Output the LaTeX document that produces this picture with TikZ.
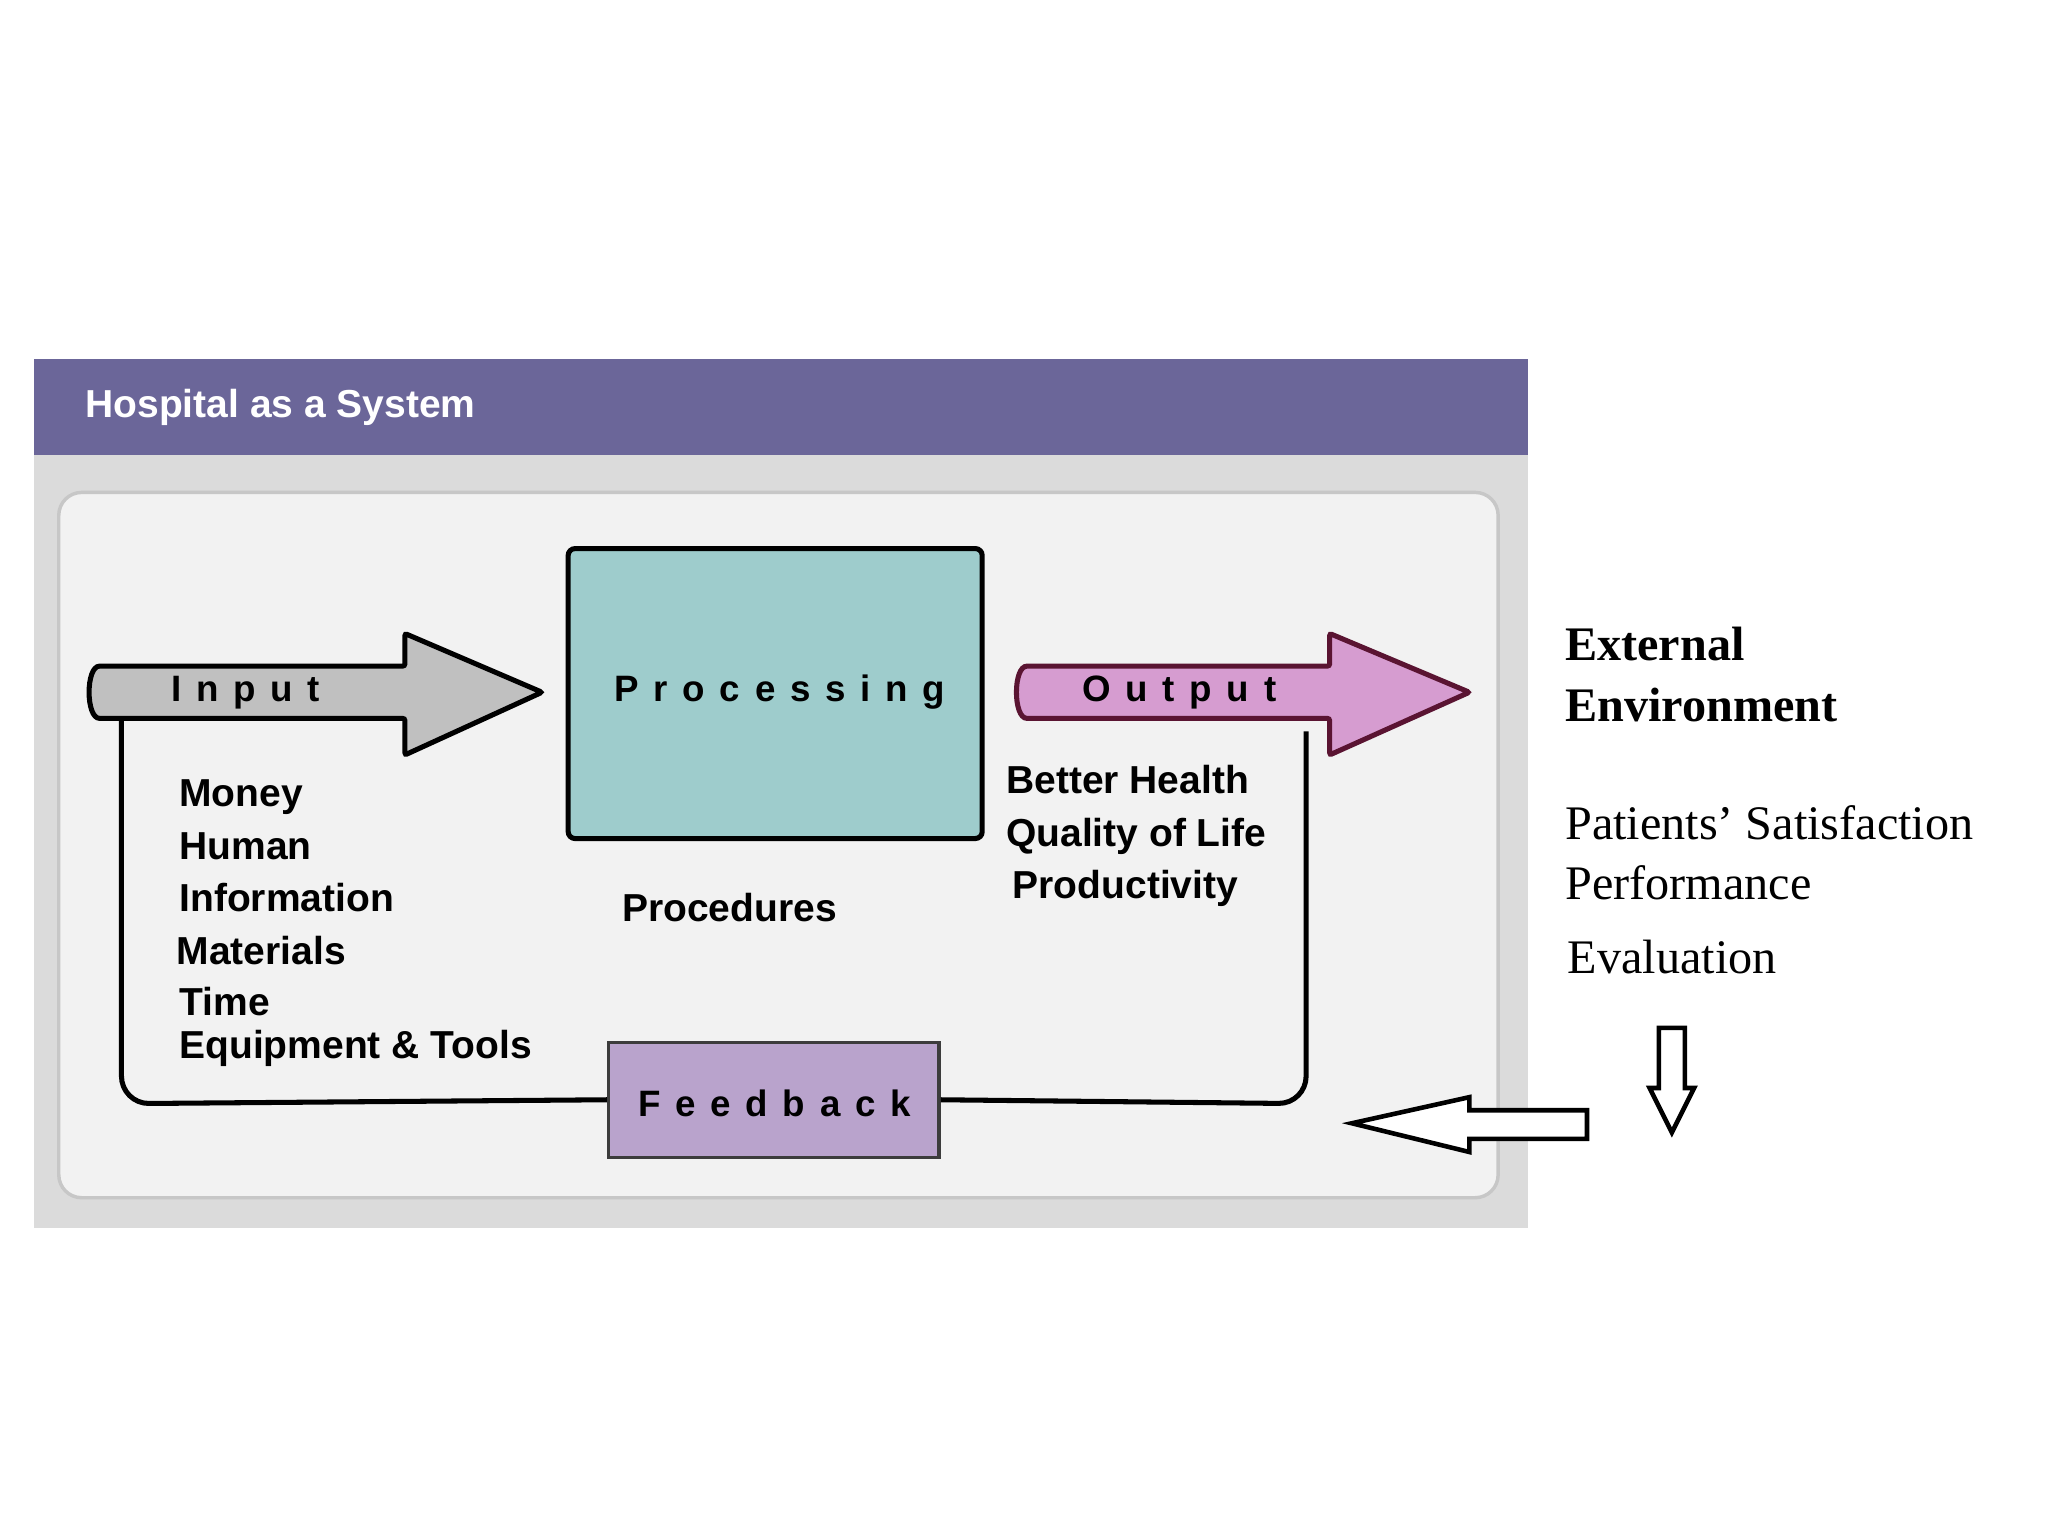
\documentclass[tikz,border=0pt]{standalone}
\usepackage{fontspec}
\setmainfont{Liberation Serif}
\newfontfamily\sansb[LetterSpace=0]{Liberation Sans}
\newfontfamily\spaced[LetterSpace=40]{Liberation Sans}
\begin{document}
\begin{tikzpicture}[x=0.02cm,y=-0.02cm,
  lst/.style={font=\sansb\fontsize{17}{20}\selectfont\bfseries,anchor=west,inner sep=0},
  lbl/.style={font=\spaced\fontsize{16}{19}\selectfont\bfseries,inner sep=0},
  ser/.style={font=\fontsize{21}{24}\selectfont,anchor=west,inner sep=0},
  loop/.style={line width=2.2pt,rounded corners=12pt}]
\useasboundingbox (0,0) rectangle (1568,1176);
\fill[white] (0,0) rectangle (1568,1176);
% panel
\fill[black!14] (26,275) rectangle (1170,940);
\fill[fill={rgb,255:red,107;green,102;blue,153}] (26,275) rectangle (1170,348);
\node[font=\sansb\fontsize{17}{20}\selectfont\bfseries,text=white,anchor=west,inner sep=0] (title) at (65,312) {Hospital as a System};
\draw[black!22,line width=1.5pt,fill=black!5,rounded corners=10pt] (45,377) rectangle (1147,917);
% feedback loop
\coordinate (o1) at (1000,560);
\coordinate (i1) at (93,550);
\node[draw={rgb,255:red,60;green,60;blue,60},line width=1.5pt,fill={rgb,255:red,185;green,163;blue,204},minimum width=253*0.02cm,minimum height=88*0.02cm] (fb) at (592.5,842) {};
\node[lbl] (fbt) at (593,845) {Feedback};
\draw[loop] (o1) -- (1000,845) -- (fb.east);
\draw[loop] (fb.west) -- (93,845) -- (i1);
% input arrow
\draw[line width=2.2pt,fill={rgb,255:red,192;green,192;blue,192},rounded corners=1pt]
 (310,510) -- (310,485) -- (415,530) -- (310,578) -- (310,550) -- (78,550) to[out=180,in=180,looseness=0.8] (78,510) -- cycle;
\node[lbl] (in) at (188,530) {Input};
% processing
\node[draw,line width=2.2pt,fill={rgb,255:red,158;green,204;blue,204},rounded corners=3pt,minimum width=317*0.02cm,minimum height=222*0.02cm] (proc) at (593.5,531) {};
\node[lbl] (pt) at (597,530) {Processing};
% output arrow
\draw[line width=2.2pt,draw={rgb,255:red,90;green,20;blue,50},fill={rgb,255:red,214;green,156;blue,208},rounded corners=1pt]
 (1018,510) -- (1018,485) -- (1125,530) -- (1018,578) -- (1018,550) -- (788,550) to[out=180,in=180,looseness=0.8] (788,510) -- cycle;
\node[lbl] (out) at (903,530) {Output};
% lists
\node[lst] (m1) at (137,610) {Money};
\node[lst] (m2) at (137,648) {Human};
\node[lst] (m3) at (137,687) {Information};
\node[lst] (m4) at (135,728) {Materials};
\node[lst] (m5) at (137,767) {Time};
\node[lst] (m6) at (137,803) {Equipment \& Tools};
\node[lst] (pr) at (476,695) {Procedures};
\node[lst] (b1) at (770,597) {Better Health};
\node[lst] (b2) at (770,640) {Quality of Life};
\node[lst] (b3) at (775,680) {Productivity};
% right side
\node[ser,font=\fontsize{21}{24}\selectfont\bfseries] (e1) at (1198,493) {External};
\node[ser,font=\fontsize{21}{24}\selectfont\bfseries] (e2) at (1198,540) {Environment};
\node[ser] (r1) at (1198,630) {Patients' Satisfaction};
\node[ser] (r2) at (1198,676) {Performance};
\node[ser] (r3) at (1200,733) {Evaluation};
% hollow arrows
\draw[line width=2pt,fill=white] (1215,850) -- (1125,850) -- (1125,840) -- (1035,860) -- (1125,882) -- (1125,872) -- (1215,872) -- cycle;
\draw[line width=2pt,fill=white] (1270,787) -- (1290,787) -- (1290,833) -- (1297,833) -- (1280,867) -- (1263,833) -- (1270,833) -- cycle;
\end{tikzpicture}
\end{document}
